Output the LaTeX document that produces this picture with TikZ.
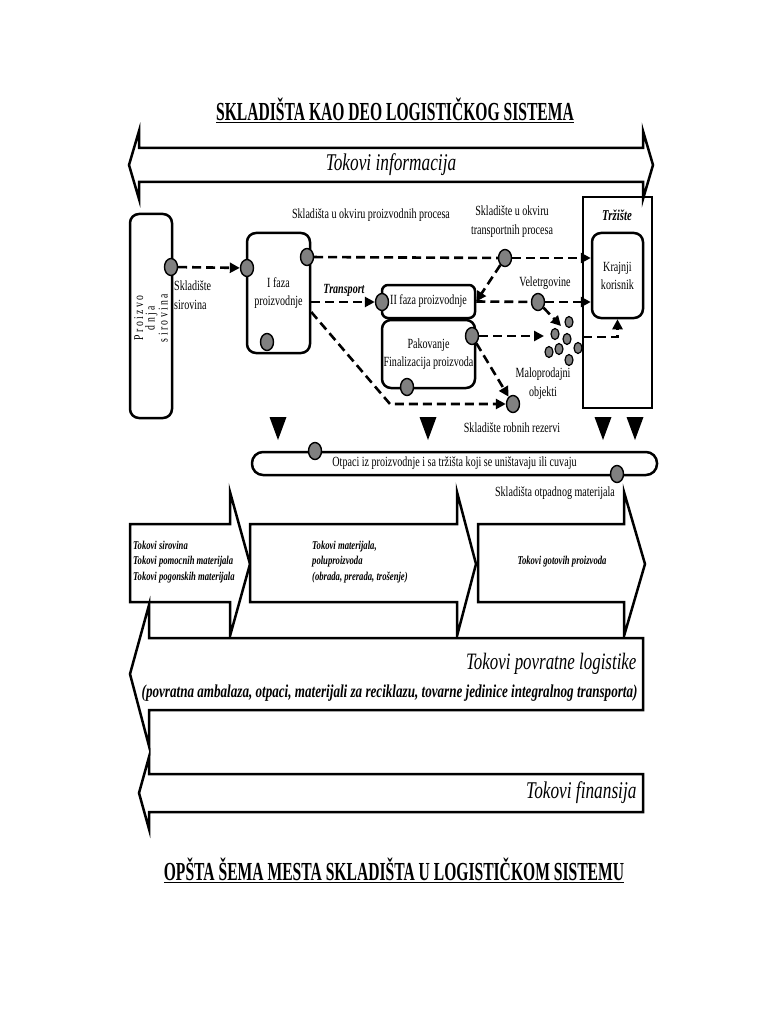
\documentclass[tikz,border=0pt]{standalone}
\usepackage{fontspec}
\setmainfont{Liberation Serif}[FakeStretch=0.72]
\newfontfamily\titlefont{Liberation Serif}[FakeStretch=0.6]
\usetikzlibrary{arrows.meta,shapes.geometric}

\tikzset{
  box/.style={draw, line width=2.5pt, rounded corners=9pt, fill=white, align=center, inner sep=1pt,
    font=\fontsize{14}{18}\selectfont},
  sdot/.style={ellipse, draw, line width=1.4pt, fill=black!50, minimum width=13pt, minimum height=17pt, inner sep=0pt},
  mdot/.style={sdot, line width=1.2pt, minimum width=8pt, minimum height=11pt},
  dflow/.style={line width=2.6pt, dash pattern=on 9pt off 5pt},
  dflowarrow/.style={dflow, -{Triangle[length=10pt,width=10pt]}},
  lbl/.style={font=\fontsize{14}{19}\selectfont, align=center, inner sep=0pt},
  bigarrow/.style={draw, line width=2.5pt, fill=white, line join=miter},
  flowtxt/.style={font=\bfseries\itshape\fontsize{12}{15.5}\selectfont, align=left, inner sep=0pt},
}

\begin{document}
\begin{tikzpicture}[x=1pt,y=-1pt]
\useasboundingbox (0,0) rectangle (768,1024);

% naslov
\node[font=\titlefont\bfseries\fontsize{26}{30}\selectfont] (naslov) at (395,110) {\underline{SKLADIŠTA KAO DEO LOGISTIČKOG SISTEMA}};

% tokovi informacija
\draw[bigarrow] (129,165) -- (139,131) -- (139,148) -- (643,148) -- (643,131) -- (653,165)
  -- (643,199) -- (643,182) -- (139,182) -- (139,199) -- cycle;
\node[font=\itshape\fontsize{24}{28}\selectfont] (info) at (391,165) {Tokovi informacija};

% trziste
\node[draw, line width=2.5pt, minimum width=69pt, minimum height=211pt] (trz) at (617.5,302.5) {};
\node[font=\bfseries\itshape\fontsize{15}{18}\selectfont] (ltrz) at (617,215) {Tržište};
\node[box, minimum width=51pt, minimum height=85pt] (kk) at (617.5,275.5) {Krajnji\\korisnik};

% proizvodnja
\node[box, minimum width=42pt, minimum height=204pt] (sir) at (151,316) {};
\node[rotate=90, font=\fontsize{13.5}{11.5}\selectfont, align=center] (lsirtxt) at (151,318)
  {P r o i z v o\\d n j a\\s i r o v i n a};
\node[box, minimum width=63pt, minimum height=120pt] (f1) at (278.5,293) {I faza\\proizvodnje};
\node[box, rounded corners=6pt, minimum width=93pt, minimum height=33pt] (f2) at (428.5,301.5) {II faza proizvodnje};
\node[box, minimum width=93pt, minimum height=68pt] (pak) at (428.5,354) {Pakovanje\\Finalizacija proizvoda};

% skladista
\node[sdot] (dsir) at (171,267) {};
\node[sdot] (df1ul) at (247,268) {};
\node[sdot] (df1ur) at (307,257) {};
\node[sdot] (df1d) at (267,342) {};
\node[sdot] (df2) at (382,302) {};
\node[sdot] (dpak) at (472,336) {};
\node[sdot] (dpakd) at (407,387) {};
\node[sdot] (dtr) at (505,258) {};
\node[sdot] (dvel) at (538,302) {};
\node[sdot] (drez) at (513,404) {};

% maloprodajni objekti
\foreach \x/\y/\n in {569/322/1, 555/334/2, 567/339/3, 559/349/4, 549/352/5, 578/348/6, 569/360/7}
  \node[mdot] (m\n) at (\x,\y) {};
\coordinate (malo) at (561,326);
\coordinate (malol) at (544,336);
\coordinate (malod) at (583,337);

% tokovi
\draw[dflowarrow] (dsir) -- (df1ul);
\draw[dflow] (df1ur) -- (dtr);
\draw[dflowarrow] (dtr) -- (kk.west |- dtr);
\draw[dflowarrow] (f1.east |- df2) -- (df2);
\draw[dflowarrow] ([yshift=-19pt]f1.east) -- (390,404) -- (drez);
\draw[dflowarrow] (dtr) -- (f2.east);
\draw[dflow] (f2.east) -- (dvel);
\draw[dflowarrow] (dvel) -- (kk.west |- dvel);
\draw[dflowarrow] (dvel) -- (malo);
\draw[dflowarrow] (dpak) -- (malol);
\draw[dflowarrow] (dpak) -- (drez);
\draw[dflowarrow] (malod) -| (kk.south);

% oznake
\node[lbl, align=left, anchor=west] (lsir) at (174,295) {Skladište\\sirovina};
\node[lbl] (lproc) at (371,215) {Skladišta u okviru proizvodnih procesa};
\node[lbl] (ltrp) at (512,222) {Skladište u okviru\\transportnih procesa};
\node[font=\bfseries\itshape\fontsize{14}{17}\selectfont] (ltr) at (344,290) {Transport};
\node[lbl] (lvel) at (545,283) {Veletrgovine};
\node[lbl] (lmalo) at (543,384) {Maloprodajni\\objekti};
\node[lbl] (lrez) at (512,428) {Skladište robnih rezervi};

% otpaci
\foreach \x in {278,428,603,635}
  \fill (\x-8.5,417) -- (\x+8.5,417) -- (\x,440) -- cycle;
\node[box, rounded corners=11pt, minimum width=405pt, minimum height=23pt] (otp) at (454.5,463.5)
  {Otpaci iz proizvodnje i sa tržišta koji se uništavaju ili cuvaju};
\node[sdot] (dotp1) at (315,451) {};
\node[sdot] (dotp2) at (617,474) {};
\node[lbl] (lotp) at (555,493) {Skladišta otpadnog materijala};

% tokovi materijala
\draw[bigarrow] (130,524) -- (230,524) -- (230,492) -- (250,564) -- (230,636) -- (230,602) -- (130,602) -- cycle;
\draw[bigarrow] (250,524) -- (457,524) -- (457,492) -- (476,564) -- (457,636) -- (457,602) -- (250,602) -- cycle;
\draw[bigarrow] (478,524) -- (624,524) -- (624,492) -- (645,564) -- (624,636) -- (624,602) -- (478,602) -- cycle;
\node[flowtxt, anchor=west] (tsir) at (133,562) {Tokovi sirovina\\Tokovi pomocnih materijala\\Tokovi pogonskih materijala};
\node[flowtxt, anchor=west] (tmat) at (312,562) {Tokovi materijala,\\poluproizvoda\\(obrada, prerada, trošenje)};
\node[flowtxt] (tgot) at (562,562) {Tokovi gotovih proizvoda};

% povratna logistika
\draw[bigarrow] (643,638) -- (149,638) -- (149,605) -- (130,674) -- (149,746) -- (149,710) -- (643,710) -- cycle;
\node[font=\itshape\fontsize{23.5}{27}\selectfont, anchor=east] (tpov) at (640,664) {Tokovi povratne logistike};
\node[font=\bfseries\itshape\fontsize{18.2}{22}\selectfont, anchor=east] (tamb) at (641,693)
  {(povratna ambalaza, otpaci, materijali za reciklazu, tovarne jedinice integralnog transporta)};

% finansije
\draw[bigarrow] (643,774) -- (149,774) -- (149,757) -- (139,793) -- (149,829) -- (149,812) -- (643,812) -- cycle;
\node[font=\itshape\fontsize{24}{28}\selectfont, anchor=east] (tfin) at (640,793) {Tokovi finansija};

\node[font=\titlefont\bfseries\fontsize{26}{30}\selectfont] (podnaslov) at (394,870)
  {\underline{OPŠTA ŠEMA MESTA SKLADIŠTA U LOGISTIČKOM SISTEMU}};
\end{tikzpicture}
\end{document}
